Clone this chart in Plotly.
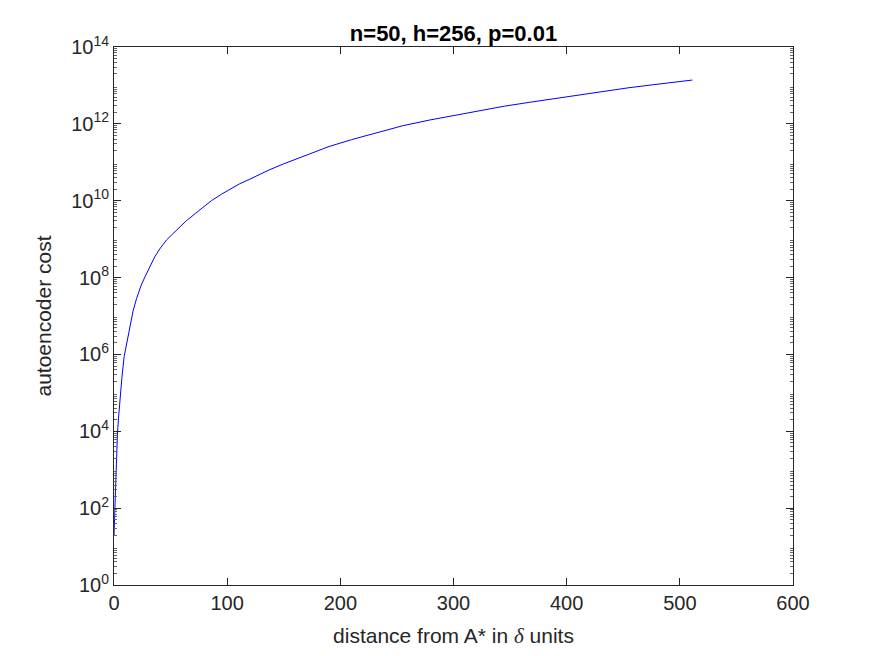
import plotly.graph_objects as go

# distance from A* (delta units) and autoencoder cost
distance = [0, 1, 2, 3, 4, 5, 7, 9, 13, 17, 20, 24, 27.4, 32, 36, 41, 46.5,
            52, 57, 64, 72, 80, 86, 95, 105, 111, 120, 137, 150, 164, 177,
            190, 210, 235, 255, 279, 300, 323, 345, 367, 390, 411, 433, 455,
            477, 499, 511]
log_cost = [1.29, 2.35, 3.3, 3.9, 4.35, 4.75, 5.4, 5.95, 6.6, 7.15, 7.46, 7.8,
            8.02, 8.3, 8.54, 8.77, 8.98, 9.14, 9.28, 9.48, 9.67, 9.85, 10.0,
            10.17, 10.34, 10.44, 10.56, 10.8, 10.96, 11.12, 11.27, 11.41,
            11.59, 11.8, 11.95, 12.1, 12.22, 12.34, 12.46, 12.56, 12.66,
            12.76, 12.85, 12.94, 13.02, 13.09, 13.14]
cost = [10 ** v for v in log_cost]

x_ticks = [0, 100, 200, 300, 400, 500, 600]
y_exps = [0, 2, 4, 6, 8, 10, 12, 14]

AX = "#262626"
FONT = "Liberation Sans, Arial, Helvetica, sans-serif"

minor_vals = [m * 10 ** e for e in range(0, 14) for m in range(2, 10)]

fig = go.Figure()
fig.add_trace(go.Scatter(
    x=distance, y=cost, mode="lines",
    line=dict(color="#0000ff", width=1),
    showlegend=False,
))

# page body adds ~8px offset, margins compensate
fig.update_layout(
    width=875, height=656,
    paper_bgcolor="white", plot_bgcolor="white",
    margin=dict(l=106, r=90, t=39, b=79),
    font=dict(family=FONT, color=AX, size=20),
    title=dict(
        text="<b>n=50, h=256, p=0.01</b>",
        x=0.5, xref="paper", y=1 - 25 / 656, yref="container",
        yanchor="middle", xanchor="center",
        font=dict(size=22, color="black", family=FONT),
    ),
)

fig.update_xaxes(
    range=[0, 600], tickvals=x_ticks,
    ticks="inside", ticklen=7, tickcolor=AX, tickwidth=1,
    showline=True, linecolor=AX, linewidth=1, mirror="ticks",
    showgrid=False, zeroline=False,
    tickfont=dict(size=20, color=AX),
    title=dict(
        text="distance from A* in <span style=\"font-family:'Liberation Serif'\"><i>δ</i></span> units",
        font=dict(size=21, color=AX), standoff=15,
    ),
)

fig.update_yaxes(
    type="log", range=[0, 14],
    tickvals=[10 ** e for e in y_exps],
    ticktext=[f"10<sup>{e}</sup>" for e in y_exps],
    ticks="inside", ticklen=7, tickcolor=AX, tickwidth=1,
    minor=dict(ticks="inside", ticklen=3, tickcolor="#666666", tickvals=minor_vals),
    showline=True, linecolor=AX, linewidth=1, mirror="ticks",
    showgrid=False, zeroline=False,
    tickfont=dict(size=20, color=AX),
    title=dict(text="autoencoder cost", font=dict(size=21, color=AX), standoff=13),
)

fig.write_html("out.html")
